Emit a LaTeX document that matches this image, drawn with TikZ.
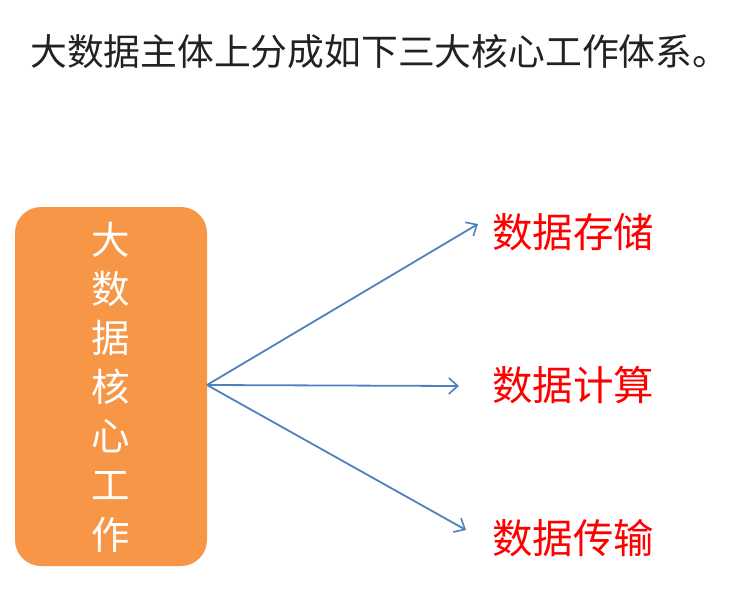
\documentclass[tikz,border=0pt]{standalone}
\usepackage{fontspec}
\newfontfamily\cjk{Noto Sans CJK SC}
\usetikzlibrary{arrows.meta}
\definecolor{boxorange}{HTML}{F79646}
\definecolor{arrowblue}{HTML}{4F81BD}
\definecolor{labelred}{HTML}{FF0000}
\tikzset{
  mainbox/.style={fill=boxorange, draw=none, rounded corners=26pt},
  vchar/.style={text=white, font=\cjk\fontsize{38.5}{38.5}\selectfont, inner sep=0pt},
  lbl/.style={text=labelred, font=\cjk\fontsize{40.5}{40.5}\selectfont, inner sep=0pt, anchor=west},
  conn/.style={draw=arrowblue, line width=1.8pt, -{Straight Barb[length=9pt,width=16pt,line width=1.6pt]}},
}
\begin{document}
\begin{tikzpicture}[x=1pt,y=-1pt]
\useasboundingbox (0,0) rectangle (732,594);
\node[font=\cjk\fontsize{36.8}{36.8}\selectfont, text={rgb,255:red,34;green,34;blue,34}, inner sep=0pt, anchor=west] (title) at (30,52) {大数据主体上分成如下三大核心工作体系。};
\path[mainbox] (15,207) rectangle (207,566);
\coordinate (src) at (207,385);
\node[vchar] (c1) at (111,240) {大};
\node[vchar] (c2) at (111,289) {数};
\node[vchar] (c3) at (111,338) {据};
\node[vchar] (c4) at (111,387) {核};
\node[vchar] (c5) at (111,436) {心};
\node[vchar] (c6) at (111,486) {工};
\node[vchar] (c7) at (111,535) {作};
\node[lbl] (s) at (492,232) {数据存储};
\node[lbl] (c) at (492,385) {数据计算};
\node[lbl] (t) at (492,538) {数据传输};
\coordinate (e1) at (478,224);
\coordinate (e2) at (459,386);
\coordinate (e3) at (466,530);
\draw[conn] (src) -- (e1);
\draw[conn] (src) -- (e2);
\draw[conn] (src) -- (e3);
\end{tikzpicture}
\end{document}
